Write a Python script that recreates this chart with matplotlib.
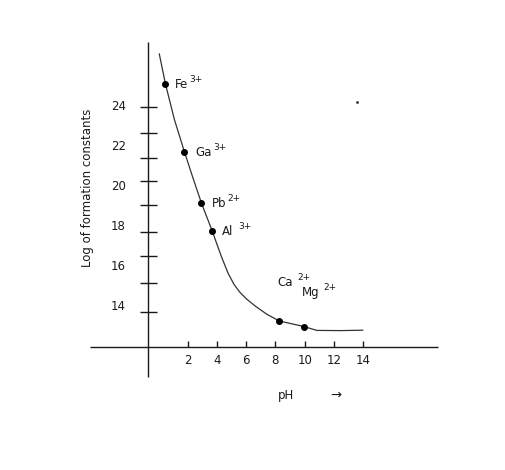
import matplotlib
matplotlib.use("Agg")
import matplotlib.pyplot as plt

# ---- data ----
curve_ph = [0.07, 0.49, 1.11, 1.79, 2.37, 2.95, 3.69, 4.01, 4.35, 4.76, 5.17, 5.58,
            6.06, 6.67, 7.43, 8.27, 9.97, 10.82, 12.41, 13.96]
curve_logk = [26.65, 25.15, 23.35, 21.75, 20.45, 19.19, 17.79, 17.13, 16.45, 15.70, 15.13, 14.73,
              14.38, 14.02, 13.63, 13.30, 13.02, 12.83, 12.82, 12.84]

ion_names = ["Fe", "Ga", "Pb", "Al", "Ca", "Mg"]
ion_charges = ["3+", "3+", "2+", "3+", "2+", "2+"]
ion_ph = [0.49, 1.79, 2.95, 3.69, 8.27, 9.97]
ion_logk = [25.15, 21.75, 19.19, 17.79, 13.30, 13.02]

x_ticks = [2, 4, 6, 8, 10, 12, 14]
y_labels = [24, 22, 20, 18, 16, 14]
y_tick_marks = [24.0, 22.7, 21.45, 20.3, 19.1, 17.75, 16.55, 15.2, 13.75]

# ---- figure ----
W, H, DPI = 505, 470, 100
fig = plt.figure(figsize=(W / DPI, H / DPI), dpi=DPI)
ax = fig.add_axes([0, 0, 1, 1])
ax.set_xlim(-10.81, 23.68)
ax.set_ylim(5.85, 29.35)
ax.axis("off")

px_x = 14.64   # pixels per pH unit
px_y = 20.0    # pixels per logK unit
PT = 0.72      # points per pixel
fs = 8.5
fs_sup = 6.5
col = "#1a1a1a"

x_axis_y = 12.0
y_axis_x = -0.70

# axes lines
ax.hlines(x_axis_y, -4.67, 19.1, color=col, lw=1.0)
ax.vlines(y_axis_x, 10.5, 27.25, color=col, lw=1.0)

# y tick marks (crossing the axis)
half = 8.5 / px_x
for t in y_tick_marks:
    ax.hlines(t, y_axis_x - half, y_axis_x + half, color=col, lw=1.0)
for v in y_labels:
    ax.text(y_axis_x - 22 / px_x, v, str(v), ha="right", va="center", fontsize=fs, color=col)

# x tick marks (upwards)
for t in x_ticks:
    ax.vlines(t, x_axis_y, x_axis_y + 6 / px_y, color=col, lw=1.0)
    ax.text(t, x_axis_y - 13 / px_y, str(t), ha="center", va="center", fontsize=fs, color=col)

# curve and points
ax.plot(curve_ph, curve_logk, color="#333333", lw=0.9, solid_joinstyle="round")
ax.plot(ion_ph, ion_logk, "o", color="black", ms=4)

# ion labels: (dx px, dy px) of the base text from the point, gap before charge
label_offsets = [(9.5, 0), (11, -0.5), (10, 0), (9.5, 0), (-1.6, 38), (-2.6, 34)]
sup_gaps = [1, 1, 1, 5, 4, 4]
for name, ch, x, y, (dx, dy), g in zip(ion_names, ion_charges, ion_ph, ion_logk,
                                      label_offsets, sup_gaps):
    t = ax.text(x + dx / px_x, y + dy / px_y, name, ha="left", va="center",
                fontsize=fs, color=col)
    ax.annotate(ch, xy=(1, 0.5), xycoords=t, xytext=(g * PT, 5.0 * PT),
                textcoords="offset points", ha="left", va="center",
                fontsize=fs_sup, color=col)

# axis titles
ax.text(y_axis_x - 61 / px_x, 24 - (187.5 - 107) / px_y, "Log of formation constants",
        rotation=90, ha="center", va="center", fontsize=fs, color=col)
ax.text(8.75, 24 - (395 - 107) / px_y, "pH", ha="center", va="center", fontsize=fs, color=col)
ax.text(12.1, 24 - (395 - 107) / px_y, "\u2192", ha="center", va="center", fontsize=fs + 1, color=col)

# stray dot in the reference
ax.plot([13.55], [24.25], "s", color="#333333", ms=0.9)

fig.savefig("out.png", dpi=DPI)
